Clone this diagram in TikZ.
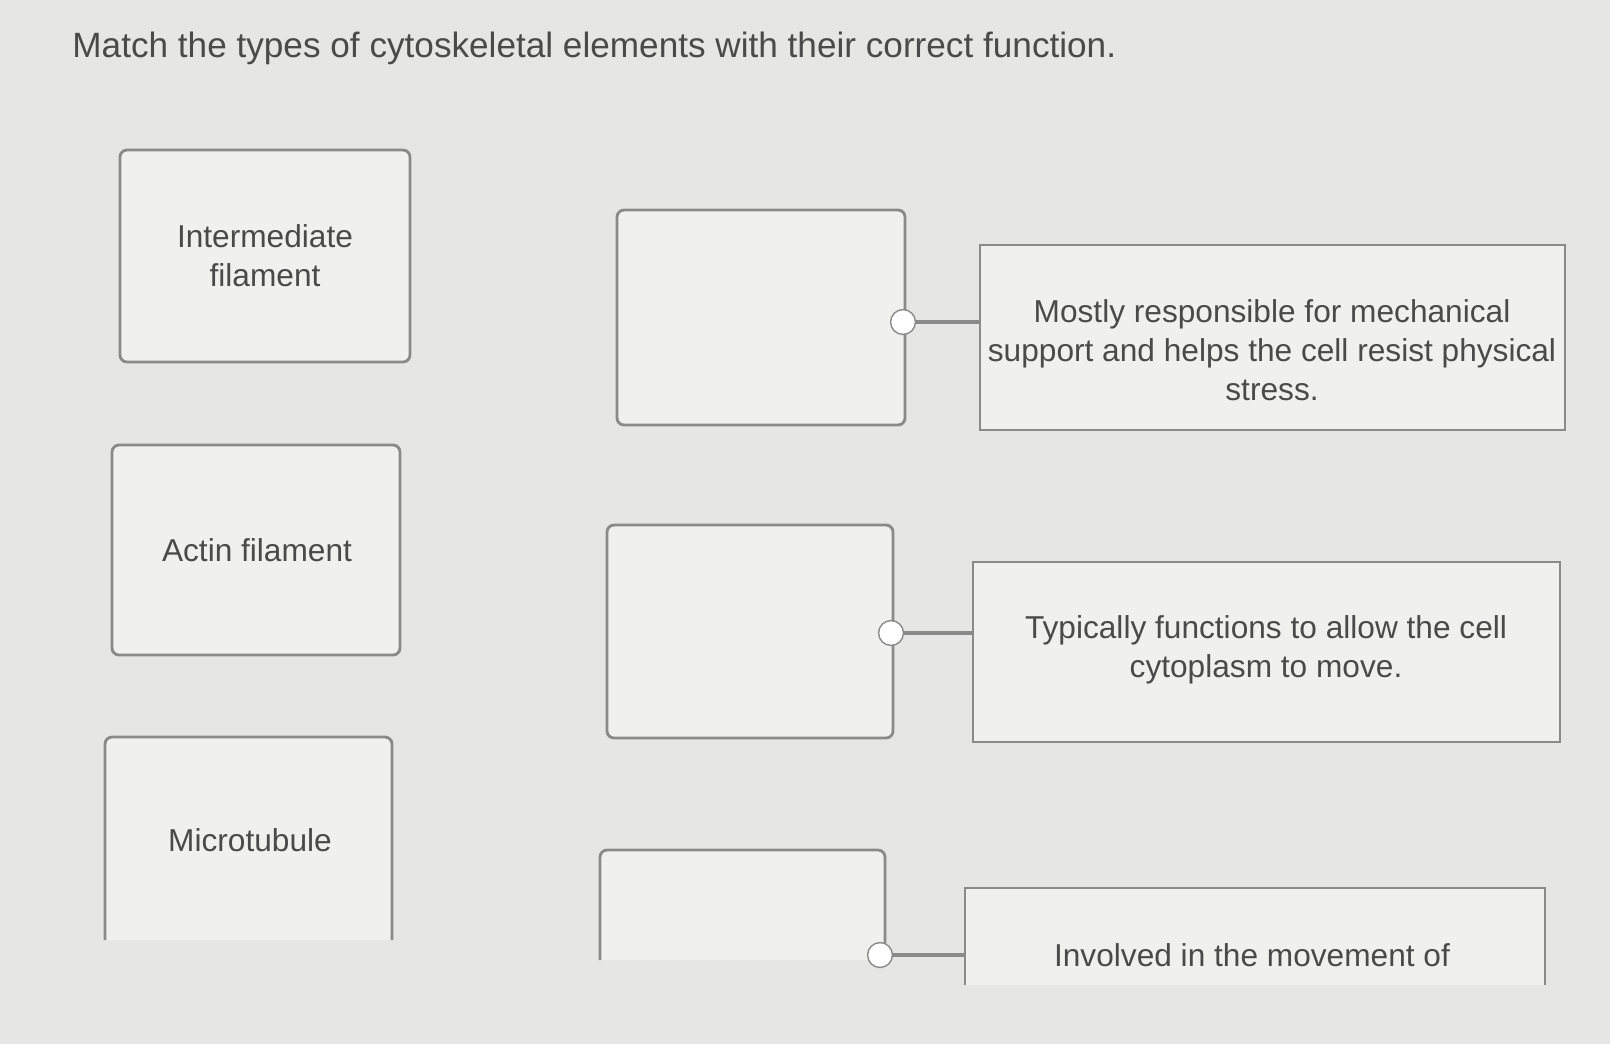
\documentclass[tikz,border=0pt]{standalone}
\usepackage{fontspec}
\setmainfont{Liberation Sans}
\definecolor{screen}{HTML}{E6E6E4}
\definecolor{boxline}{HTML}{8A8A8A}
\definecolor{ink}{HTML}{4A4A4A}
\begin{document}
\begin{tikzpicture}[x=0.01cm,y=-0.01cm]
    \tikzstyle{cell}=[draw=boxline, line width=0.8pt, fill=screen!60!white, rounded corners=2pt]
    \tikzstyle{label}=[text=ink, font=\fontsize{9}{11}\selectfont, align=center]
    \tikzstyle{link}=[draw=boxline, line width=1.2pt]
    \tikzstyle{knob}=[circle, draw=boxline, fill=white, inner sep=2.5pt]
    \fill[screen] (0,0) rectangle (1610,1044);
    \useasboundingbox (0,0) rectangle (1610,1044);
    \node[text=ink, anchor=west, font=\fontsize{10}{12}\selectfont] (title) at (60,48) {Match the types of cytoskeletal elements with their correct function.};
    % element boxes
    \draw[cell] (120,150) rectangle (410,362);
    \node[label] (N01) at (265,256) {Intermediate\\filament};
    \draw[cell] (112,445) rectangle (400,655);
    \node[label] (N02) at (257,550) {Actin filament};
    \draw[cell] (105,940) -- (105,737) -- (392,737) -- (392,940);
    \node[label] (N03) at (250,840) {Microtubule};
    % answer slots
    \draw[cell] (617,210) rectangle (905,425);
    \draw[cell] (607,525) rectangle (893,738);
    \draw[cell] (600,960) -- (600,850) -- (885,850) -- (885,960);
    % function boxes
    \draw[cell, rounded corners=0pt] (980,245) rectangle (1565,430);
    \coordinate (F01) at (980,322);
    \node[label] (T01) at (1272,350) {Mostly responsible for mechanical\\support and helps the cell resist physical\\stress.};
    \draw[cell, rounded corners=0pt] (973,562) rectangle (1560,742);
    \coordinate (F02) at (973,633);
    \node[label] (T02) at (1266,650) {Typically functions to allow the cell\\cytoplasm to move.};
    \draw[cell, rounded corners=0pt] (965,985) -- (965,888) -- (1545,888) -- (1545,985);
    \coordinate (F03) at (965,955);
    \node[label] (T03) at (1252,955) {Involved in the movement of};
    % connectors
    \node[knob] (C01) at (903,322) {};
    \node[knob] (C02) at (891,633) {};
    \node[knob] (C03) at (880,955) {};
    \draw[link] (C01) -- (F01);
    \draw[link] (C02) -- (F02);
    \draw[link] (C03) -- (F03);
\end{tikzpicture}
\end{document}
